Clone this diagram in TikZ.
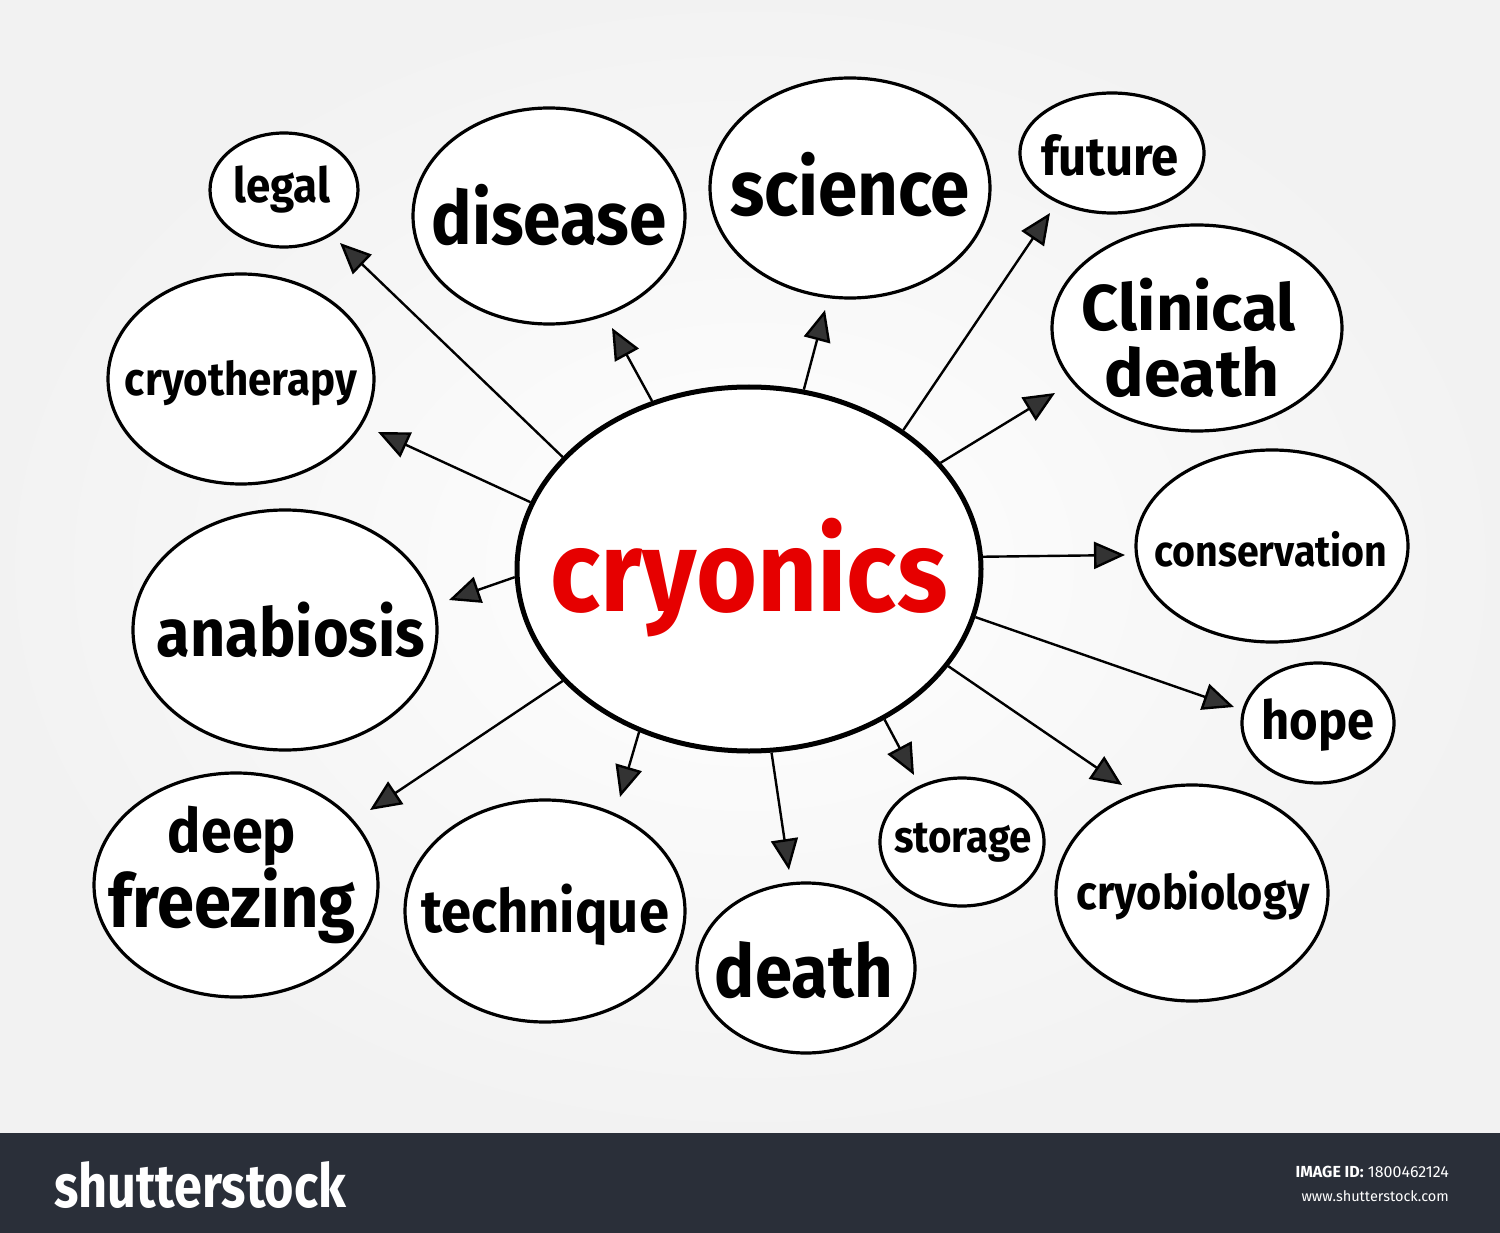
\documentclass[tikz,border=0pt]{standalone}
\usepackage{fontspec}
\usepackage{graphicx}
\setmainfont{Fira Sans}
\usetikzlibrary{shapes.geometric,arrows.meta}
\definecolor{barcol}{HTML}{2A2F39}
\definecolor{cryred}{HTML}{E60000}
\newcommand\tw[2]{\scalebox{1}[1.1]{\resizebox{#1pt}{!}{#2}}}
\newcommand\twp[2]{\resizebox{#1pt}{!}{#2}}
\tikzset{
  bub/.style={draw=black, line width=3.2pt, ellipse, fill=white, inner sep=0pt},
  lbl/.style={inner sep=0pt, align=center, font=\fontsize{40}{58}\selectfont\bfseries},
  arr/.style={draw=black, line width=2.4pt,
    -{Triangle[length=31pt,width=27pt,fill=black!80]}},
}
\begin{document}
\begin{tikzpicture}[x=1pt,y=-1pt]
\useasboundingbox (0,0) rectangle (1500,1233);
\shade[inner color=white, outer color=black!5] (0,0) rectangle (1500,1133);
\fill[barcol] (0,1133) rectangle (1500,1233);
\node[anchor=west, inner sep=0pt, text=white, font=\fontsize{50}{55}\selectfont\bfseries] (sslogo) at (54,1185) {\resizebox{292pt}{46pt}{shutterstock}};
\node[anchor=east, inner sep=0pt, text=white!85, font=\fontsize{16}{18}\selectfont] (ssid) at (1449,1172) {\textbf{IMAGE ID:} 1800462124};
\node[anchor=east, inner sep=0pt, text=white!75, font=\fontsize{14.5}{16}\selectfont] (ssurl) at (1449,1196) {www.shutterstock.com};

% central node
\node[bub, line width=5pt, minimum width=464pt, minimum height=364pt] (cry) at (749,569) {};
\node[lbl, text=cryred] (cryT) at (749,578) {\tw{397}{cryonics}};

% satellite bubbles
\node[bub, minimum width=148pt, minimum height=114pt] (legal) at (284,190) {};
\node[bub, minimum width=272pt, minimum height=216pt] (disease) at (549,216) {};
\node[bub, minimum width=280pt, minimum height=220pt] (science) at (850,188) {};
\node[bub, minimum width=184pt, minimum height=120pt] (future) at (1112,153) {};
\node[bub, minimum width=290pt, minimum height=206pt] (clin) at (1197,328) {};
\node[bub, minimum width=266pt, minimum height=210pt] (cryoth) at (241,379) {};
\node[bub, minimum width=272pt, minimum height=192pt] (cons) at (1272,546) {};
\node[bub, minimum width=304pt, minimum height=240pt] (anab) at (285,630) {};
\node[bub, minimum width=152pt, minimum height=120pt] (hope) at (1318,723) {};
\node[bub, minimum width=284pt, minimum height=224pt] (deep) at (236,885) {};
\node[bub, minimum width=280pt, minimum height=222pt] (tech) at (545,911) {};
\node[bub, minimum width=218pt, minimum height=170pt] (death) at (806,968) {};
\node[bub, minimum width=164pt, minimum height=128pt] (stor) at (962,842) {};
\node[bub, minimum width=272pt, minimum height=216pt] (cryob) at (1192,893) {};

% labels
\node[lbl] (legalT) at (282,190) {\tw{97}{legal}};
\node[lbl] (diseaseT) at (549,215) {\tw{235}{disease}};
\node[lbl] (scienceT) at (850,185) {\tw{240}{science}};
\node[lbl] (futureT) at (1110,155) {\tw{138}{future}};
\node[lbl, anchor=base] (clinT1) at (1189,331) {\twp{214}{Clinical}};
\node[lbl, anchor=base] (clinT2) at (1192,396) {\twp{175}{death}};
\node[lbl] (cryothT) at (241,383) {\tw{232}{cryotherapy}};
\node[lbl] (consT) at (1271,549) {\tw{233}{conservation}};
\node[lbl] (anabT) at (291,630) {\tw{268}{anabiosis}};
\node[lbl] (hopeT) at (1318,725) {\tw{113}{hope}};
\node[lbl, font=\fontsize{40}{60}\selectfont\bfseries] (deepT) at (232,875) {\tw{128}{deep}\\\tw{247}{freezing}};
\node[lbl] (techT) at (545,915) {\tw{248}{technique}};
\node[lbl] (deathT) at (804,970) {\tw{178}{death}};
\node[lbl] (storT) at (963,843) {\tw{138}{storage}};
\node[lbl] (cryobT) at (1193,895) {\tw{233}{cryobiology}};

% arrow tips
\coordinate (tLegal) at (340,243);
\coordinate (tCryoth) at (378,432);
\coordinate (tAnab) at (449,600);
\coordinate (tDeep) at (370,810);
\coordinate (tTech) at (620,797);
\coordinate (tDeath) at (789,870);
\coordinate (tStor) at (914,775);
\coordinate (tCryob) at (1122,785);
\coordinate (tHope) at (1234,707);
\coordinate (tCons) at (1125,555);
\coordinate (tClin) at (1055,393);
\coordinate (tFuture) at (1050,213);
\coordinate (tScience) at (825,310);
\coordinate (tDisease) at (612,328);

\draw[arr] (cry.149.6) -- (tLegal);
\draw[arr] (cry.163.7) -- (tCryoth);
\draw[arr] (cry.182.7) -- (tAnab);
\draw[arr] (cry.211.4) -- (tDeep);
\draw[arr] (cry.236.8) -- (tTech);
\draw[arr] (cry.277.9) -- (tDeath);
\draw[arr] (cry.312.2) -- (tStor);
\draw[arr] (cry.334.3) -- (tCryob);
\draw[arr] (cry.348) -- (tHope);
\draw[arr] (cry.3.9) -- (tCons);
\draw[arr] (cry.29.8) -- (tClin);
\draw[arr] (cry.42.3) -- (tFuture);
\draw[arr] (cry.73.5) -- (tScience);
\draw[arr] (cry.120.4) -- (tDisease);
\end{tikzpicture}
\end{document}
